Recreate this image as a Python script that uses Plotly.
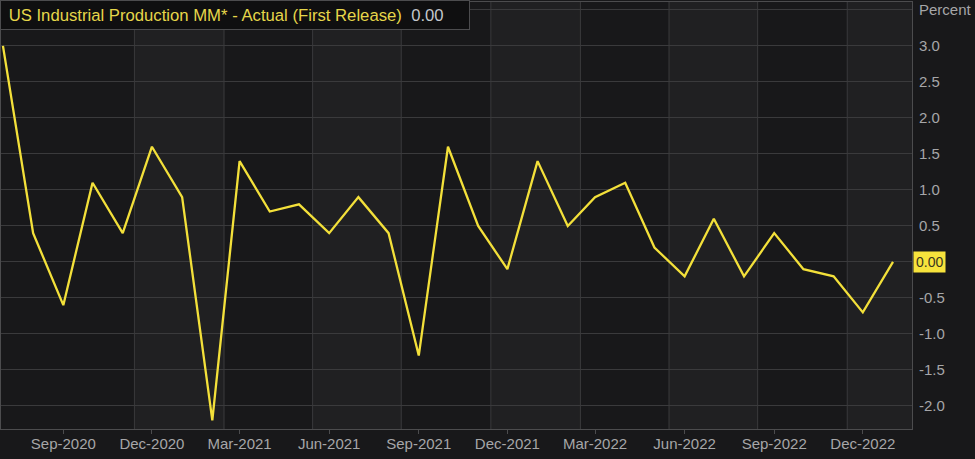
import plotly.graph_objects as go

# ---- data ----
months = [
    "2020-07-01", "2020-08-01", "2020-09-01", "2020-10-01", "2020-11-01", "2020-12-01",
    "2021-01-01", "2021-02-01", "2021-03-01", "2021-04-01", "2021-05-01", "2021-06-01",
    "2021-07-01", "2021-08-01", "2021-09-01", "2021-10-01", "2021-11-01", "2021-12-01",
    "2022-01-01", "2022-02-01", "2022-03-01", "2022-04-01", "2022-05-01", "2022-06-01",
    "2022-07-01", "2022-08-01", "2022-09-01", "2022-10-01", "2022-11-01", "2022-12-01",
    "2023-01-01",
]
values = [
    3.0, 0.4, -0.6, 1.1, 0.4, 1.6,
    0.9, -2.2, 1.4, 0.7, 0.8, 0.4,
    0.9, 0.4, -1.3, 1.6, 0.5, -0.1,
    1.4, 0.5, 0.9, 1.1, 0.2, -0.2,
    0.6, -0.2, 0.4, -0.1, -0.2, -0.7,
    0.0,
]
title_text = "US Industrial Production MM* - Actual (First Release)"
last_value_text = "0.00"
y_tickvals = [-2.0, -1.5, -1.0, -0.5, 0.0, 0.5, 1.0, 1.5, 2.0, 2.5, 3.0, 3.5]
y_ticktext = ["-2.0", "-1.5", "-1.0", "-0.5", "", "0.5", "1.0", "1.5", "2.0", "2.5", "3.0", "Percent"]
band_edges = ["2020-11-13", "2021-02-13", "2021-05-15", "2021-08-14", "2021-11-14",
              "2022-02-14", "2022-05-16", "2022-08-15", "2022-11-15"]
x_range = ["2020-06-29", "2023-01-20 12:00"]
y_range = [-2.32, 3.61]

# ---- style ----
BG = "#18181a"
BAND = "#202022"
GRID = "#3a3a3c"
BORDER = "#4c4c4e"
LINE = "#f3e03a"
LABEL = "#a6a6a8"
FONT = "Liberation Sans, Arial, sans-serif"

fig = go.Figure()
fig.add_trace(go.Scatter(
    x=months, y=values, mode="lines",
    line=dict(color=LINE, width=2.3), hoverinfo="x+y", showlegend=False,
))

shapes = []
edges = band_edges + [x_range[1]]
for i in range(0, len(band_edges), 2):
    shapes.append(dict(type="rect", xref="x", yref="paper", x0=edges[i], x1=edges[i + 1],
                       y0=0, y1=1, fillcolor=BAND, line=dict(width=0), layer="below"))
for e in band_edges:
    shapes.append(dict(type="line", xref="x", yref="paper", x0=e, x1=e, y0=0, y1=1,
                       line=dict(color=GRID, width=1), layer="below"))

fig.update_layout(
    width=975, height=459,
    margin=dict(l=1, r=63, t=2, b=30),
    paper_bgcolor=BG, plot_bgcolor=BG,
    font=dict(family=FONT, color=LABEL, size=15),
    shapes=shapes,
    xaxis=dict(
        type="date", range=x_range, showgrid=False, zeroline=False,
        tickformat="%b-%Y", dtick="M3", tick0="2020-09-01",
        ticks="outside", ticklen=4, tickcolor=BORDER,
        showline=True, linecolor=BORDER, mirror=True,
        ticklabelstandoff=-3,
        tickfont=dict(size=15, color=LABEL),
    ),
    yaxis=dict(
        side="right", range=y_range, tickvals=y_tickvals, ticktext=y_ticktext,
        showgrid=True, gridcolor=GRID, gridwidth=1, zeroline=False,
        showline=True, linecolor=BORDER, mirror=True, ticks="",
        ticklabelstandoff=3,
        tickfont=dict(size=15, color=LABEL),
    ),
    annotations=[
        dict(xref="paper", yref="paper", x=0, y=1, xanchor="left", yanchor="top",
             text=f"&nbsp;<span style='color:#e6d64a'>{title_text}</span>&nbsp;&nbsp;"
                  f"<span style='color:#c4c8cc'>{last_value_text}</span>",
             showarrow=False, align="left", width=462, height=22,
             bgcolor="#0f0f10", bordercolor=BORDER, borderwidth=1, borderpad=3,
             font=dict(size=16.7, family=FONT),
             xshift=-1, yshift=2),
        dict(xref="paper", yref="y", x=1, y=values[-1], xanchor="left", yanchor="middle",
             text=last_value_text, showarrow=False, bgcolor="#f7e33c",
             font=dict(size=14, color="#3a3520"), borderpad=2, xshift=1),
    ],
)

fig.write_html("out.html")
